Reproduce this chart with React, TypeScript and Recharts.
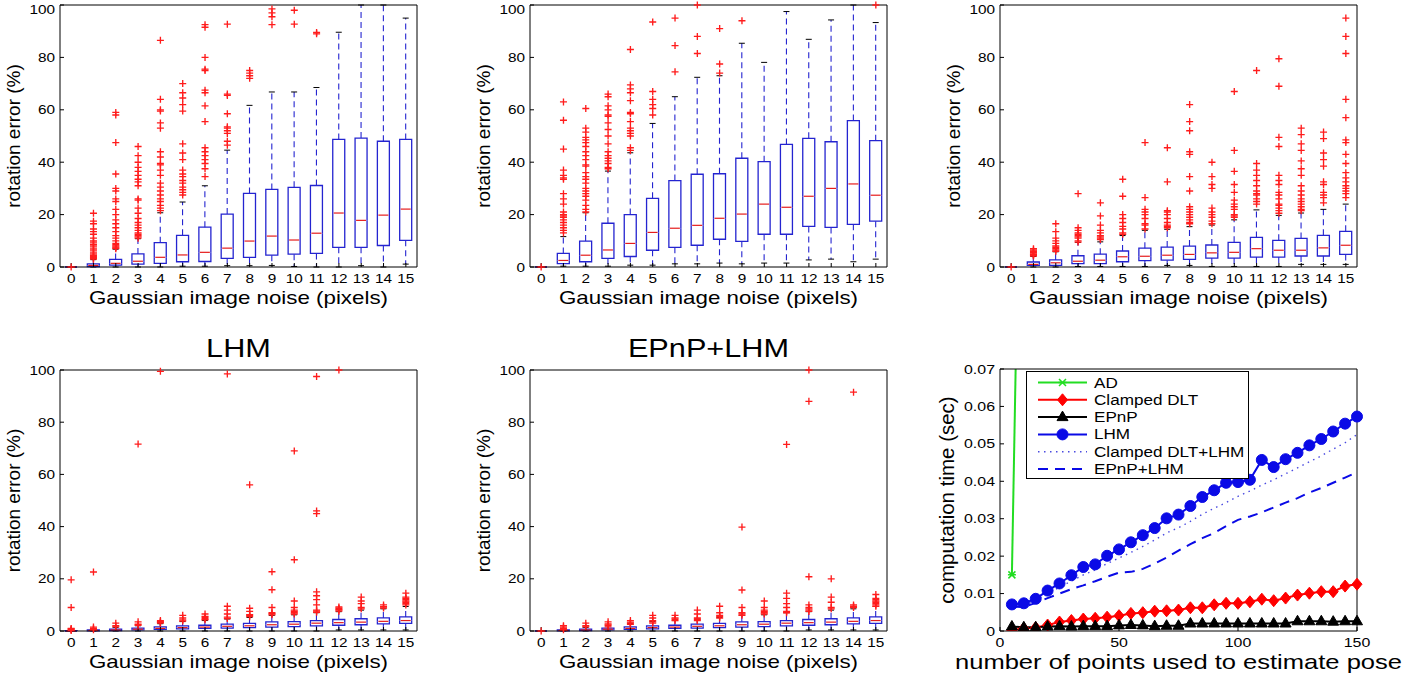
import React from "react";
import { ComposedChart, LineChart, Bar, Scatter, Line, XAxis, YAxis, Legend } from "recharts";

// ---- box plot panels: [lower whisker, q1, median, q3, upper whisker] per noise level ----
const GROUPS = [0, 1, 2, 3, 4, 5, 6, 7, 8, 9, 10, 11, 12, 13, 14, 15];
const Y_TICKS = [0, 20, 40, 60, 80, 100];

const BOX_A = [
  [0, 0, 0, 0, 0], [0, 0.2, 0.6, 1.2, 2.8], [0, 0.7, 1.4, 2.9, 6.8], [0, 1.1, 2.2, 5, 10.8],
  [0, 1.4, 3.7, 9.3, 20.7], [0.3, 2, 4.6, 12.1, 24.8], [0.3, 2.1, 5.6, 15.2, 31], [0.5, 3.3, 7.2, 20.2, 44.6],
  [0.5, 3.7, 9.9, 28.1, 61.7], [0.6, 4.5, 11.8, 29.6, 66.8], [0.2, 4.9, 10.3, 30.4, 66.8], [0, 5.2, 12.9, 31.1, 68.5],
  [0, 7.5, 20.6, 48.7, 89.6], [0.5, 7.5, 17.8, 49.2, 100], [0, 8.2, 19.8, 48, 100], [1.1, 10.2, 22.1, 48.7, 95],
];
const OUT_A = [
  [0],
  [3, 3.3, 3.7, 4, 4.5, 5, 5.7, 6.5, 7.2, 8, 8.7, 9.5, 10, 11, 12.5, 13.5, 14.5, 16.5, 17.5, 20.5],
  [7, 7.3, 7.6, 8, 8.5, 9, 10, 11, 12, 13.5, 15, 16.5, 18, 20, 22, 25, 26, 29, 30, 35.5, 47.5, 58, 59],
  [11, 11.5, 12, 12.5, 13, 14, 15, 16, 17, 18.5, 20.5, 22.5, 25.5, 26, 31, 32.5, 33.5, 35, 36.5, 38, 40, 42.5, 46],
  [21.5, 22.5, 23.5, 25, 26, 27.5, 29, 30.5, 32, 35, 37, 39, 39.5, 42, 44, 53, 55, 59.5, 60, 64, 86.5],
  [27.5, 28.5, 29.5, 30.5, 32, 33, 34.5, 35.5, 37, 41, 43.5, 47, 59.5, 62, 64.5, 66.5, 70],
  [34.5, 37.5, 39.5, 41, 42.5, 44, 45.5, 55.5, 61.5, 66.5, 67.5, 75, 75.5, 80, 91.5, 92.5],
  [46.5, 48, 51, 52, 53, 53.5, 58.5, 65.5, 66, 92.7],
  [72, 73, 74, 75],
  [92.5, 95.5, 97, 98.5],
  [92.7, 98],
  [89, 89.5],
  [], [], [], [],
];

const BOX_B = [
  [0, 0, 0, 0, 0], [0.3, 1.3, 2.5, 5.2, 11.6], [0.3, 2, 4.5, 9.9, 20.7], [0.3, 3.3, 6.5, 16.7, 36.6],
  [0.7, 4, 9, 20, 43.6], [0.7, 6.4, 13.2, 26.2, 54.8], [1.2, 7.5, 14.8, 33, 65], [1.2, 8.3, 15.9, 35.4, 72.4],
  [1.5, 10.6, 18.6, 35.6, 73], [1.2, 9.8, 20.2, 41.5, 85.4], [1.5, 12.5, 24, 40.2, 78.1], [1.5, 12.5, 22.8, 46.8, 97.5],
  [2.7, 15.5, 27, 49.1, 86.9], [3, 15.1, 30, 47.8, 94.3], [2, 16.3, 31.7, 55.9, 100], [3, 17.5, 27.4, 48.2, 93.3],
];
const OUT_B = [
  [0],
  [13, 14, 15, 16, 17, 18, 19, 19.5, 20, 21, 24, 26, 28, 33.5, 34, 35, 37, 45, 56, 63],
  [21, 22, 23.5, 25.5, 27, 28, 29, 30, 32, 33.5, 34.5, 36, 38.5, 39, 41, 42.5, 44, 46, 47.5, 48.5, 49.5, 51.5, 53, 60.5],
  [37.5, 38, 39.5, 40.5, 41.5, 42.5, 44, 47, 50, 52.5, 55, 57.5, 58, 60, 61.5, 65, 66],
  [44.5, 45.5, 50, 51, 52, 53, 55.5, 58.5, 59, 63.5, 66.5, 68, 69.5, 83],
  [58, 60.5, 62, 64, 67, 93.5],
  [74.5, 84.5, 95],
  [81.5, 88, 100],
  [74, 77.5, 91],
  [94],
  [], [], [], [], [],
  [100],
];

const BOX_C = [
  [0, 0, 0, 0, 0], [0, 0.6, 1, 1.9, 4], [0, 0.6, 1.6, 2.7, 5.8], [0.2, 1.3, 2.2, 4.3, 9.4],
  [0.2, 1.3, 2.6, 4.9, 9.6], [0.2, 2, 3.9, 6.1, 12], [0.2, 2.4, 4.1, 7.2, 14], [0.6, 2.6, 4.5, 7.6, 14.4],
  [0.6, 2.9, 4.8, 8, 15.4], [0.2, 3.4, 5.4, 8.4, 16], [0.2, 3.4, 5.6, 9.4, 18], [0.2, 3.8, 7, 11.3, 21.8],
  [0.2, 3.8, 6.4, 10.2, 19.7], [1, 4.2, 6.4, 10.9, 20.6], [1, 4.2, 7.3, 12.1, 22], [1, 4.8, 8.3, 13.6, 24],
];
const OUT_C = [
  [0],
  [4.2, 4.5, 4.8, 5, 5.5, 6, 6.5, 7],
  [6, 6.5, 7, 7.5, 8, 9, 10, 11, 13.5, 16.5],
  [9.5, 10, 11, 11.5, 12, 12.5, 13, 14, 15, 28],
  [10.5, 11, 11.5, 12, 13, 14, 16, 19.5, 24.5],
  [12.5, 13, 14.5, 15.5, 17, 18.5, 20, 27, 33.5],
  [14.5, 16, 16.5, 18.5, 20, 21, 22, 26.5, 47.5],
  [15, 15.5, 16, 17, 18.5, 20, 21, 21.5, 32.5, 45.5],
  [16.5, 17, 18, 19, 20, 21, 22, 23, 29, 34.5, 43, 44, 52, 55.5, 62],
  [16.5, 17.5, 19, 20, 21, 22.5, 30, 31.5, 34.5, 40],
  [19, 19.5, 20, 22, 23, 24, 25.5, 28.5, 31.5, 36.5, 44.5, 67],
  [24, 25, 26, 27.5, 28, 29, 31, 33, 35, 37, 39.5, 75],
  [20.5, 21.5, 22.5, 23.5, 24, 26, 27.5, 28.5, 31.5, 33, 35, 46, 49.5, 69, 79.5],
  [21.5, 22, 23, 24, 25, 26, 27.5, 29, 31, 35, 37.5, 40.5, 44.5, 47, 50.5, 53],
  [24.5, 26.5, 27.5, 28.5, 31.5, 32.5, 38.5, 41, 43.5, 49, 51.5],
  [26.5, 28, 29, 30, 31, 32.5, 34, 36, 39.5, 43, 47.5, 48.5, 57, 64, 81.5, 88, 95],
];

const BOX_LHM = [
  [0, 0, 0, 0.1, 0.3], [0, 0.1, 0.2, 0.4, 0.8], [0, 0.2, 0.4, 0.7, 1.4], [0, 0.4, 0.7, 1.1, 2],
  [0, 0.6, 1, 1.6, 2.8], [0, 0.8, 1.3, 2, 3.6], [0, 1, 1.5, 2.2, 4], [0, 1.1, 1.8, 2.6, 4.6],
  [0, 1.3, 2, 2.9, 5.2], [0, 1.5, 2.4, 3.5, 6], [0, 1.7, 2.6, 3.6, 6.2], [0, 2, 3, 4, 7],
  [0.4, 2.2, 3.2, 4.4, 7.4], [0.4, 2.4, 3.4, 4.7, 8], [0.4, 2.7, 3.7, 5, 8.5], [0.4, 2.9, 4, 5.4, 9.4],
];
const OUT_LHM = [
  [0.2, 0.5, 0.8, 1, 9, 19.6],
  [0.5, 1, 1.5, 22.6],
  [1.6, 2, 3],
  [2.2, 2.6, 3.5, 71.6],
  [3, 3.3, 3.6, 4, 99.5],
  [3.8, 4.2, 5, 6],
  [4.3, 4.7, 5.2, 5.6, 6.5],
  [4.8, 5.3, 6.5, 8, 9.5, 98.5],
  [5.5, 6, 6.3, 7.5, 8.7, 56],
  [6.2, 6.6, 7, 9, 15.8, 22.7],
  [6.5, 7, 7.5, 8, 9, 11.5, 27.3, 69],
  [7.2, 7.6, 8, 10, 12, 13.5, 15, 45, 46, 97.5],
  [7.6, 8, 8.3, 8.7, 9.2, 100],
  [8.5, 9, 10.5, 11.5, 13],
  [8.8, 9.3, 10],
  [10, 10.5, 11, 11.5, 12, 12.5, 13, 14.5],
];

const BOX_EPNP_LHM = [
  [0, 0, 0, 0, 0], [0, 0.1, 0.2, 0.4, 0.8], [0, 0.2, 0.4, 0.7, 1.4], [0, 0.4, 0.7, 1.1, 2],
  [0, 0.6, 1, 1.6, 2.8], [0, 0.8, 1.3, 2, 3.6], [0, 1, 1.5, 2.2, 4], [0, 1.1, 1.8, 2.6, 4.6],
  [0, 1.3, 2, 2.9, 5.2], [0, 1.5, 2.4, 3.5, 6], [0, 1.7, 2.6, 3.6, 6.2], [0, 2, 3, 4, 7],
  [0.4, 2.2, 3.2, 4.4, 7.4], [0.4, 2.4, 3.4, 4.7, 8], [0.4, 2.7, 3.7, 5, 8.5], [0.4, 2.9, 4, 5.4, 9.4],
];
const OUT_EPNP_LHM = [
  [0],
  [0.5, 1, 1.5, 2],
  [1.6, 2, 3],
  [1.6, 2.2, 2.7, 3.5],
  [2.6, 3, 3.4, 4],
  [3, 3.5, 4, 5, 6],
  [4, 4.5, 5, 6],
  [4, 4.5, 5, 6.5, 8],
  [5, 5.5, 6, 7, 9.5],
  [6, 6.5, 7, 9, 15.7, 39.8],
  [6.5, 7, 7.5, 8, 9, 11.5],
  [7, 7.5, 9, 10.5, 12.5, 14.5, 71.5],
  [7.5, 8, 8.5, 9, 10, 20.8, 88, 100],
  [8.5, 9, 11, 13, 20],
  [9, 9.5, 10, 91.5],
  [9.5, 10, 10.5, 11, 11.5, 12, 12.5, 14],
];

// ---- computation time panel ----
const N_POINTS = [5, 10, 15, 20, 25, 30, 35, 40, 45, 50, 55, 60, 65, 70, 75, 80, 85, 90, 95, 100, 105, 110, 115, 120, 125, 130, 135, 140, 145, 150];
const T_X_TICKS = [0, 50, 100, 150];
const T_Y_TICKS = [0, 0.01, 0.02, 0.03, 0.04, 0.05, 0.06, 0.07];
const T_AD = [0.015, 0.19];
const T_DLT = [0.0002, 0.0007, 0.0009, 0.0016, 0.0024, 0.0028, 0.0032, 0.0034, 0.0037, 0.0041, 0.0047, 0.0049, 0.0053, 0.0054, 0.0056, 0.0062, 0.0062, 0.007, 0.0074, 0.0074, 0.0078, 0.0085, 0.0081, 0.0088, 0.0096, 0.0101, 0.0105, 0.0105, 0.012, 0.0125];
const T_EPNP = [0.0012, 0.001, 0.001, 0.0012, 0.0013, 0.0012, 0.0013, 0.0013, 0.0013, 0.0015, 0.0016, 0.0015, 0.0013, 0.0014, 0.0014, 0.002, 0.002, 0.002, 0.002, 0.002, 0.002, 0.002, 0.002, 0.002, 0.0026, 0.0026, 0.0026, 0.0025, 0.0026, 0.0026];
const T_LHM = [0.0071, 0.0074, 0.0086, 0.0108, 0.0127, 0.0149, 0.0171, 0.0178, 0.0201, 0.0218, 0.0237, 0.0256, 0.0275, 0.0301, 0.0311, 0.0334, 0.0358, 0.0376, 0.0396, 0.0398, 0.0404, 0.0457, 0.0438, 0.0459, 0.0476, 0.0496, 0.0513, 0.0533, 0.0554, 0.0573];
const T_DLT_LHM = [0.0068, 0.0068, 0.0082, 0.01, 0.0117, 0.0133, 0.015, 0.0163, 0.018, 0.0195, 0.021, 0.0226, 0.0243, 0.0262, 0.0276, 0.0293, 0.0312, 0.0328, 0.0343, 0.036, 0.0374, 0.039, 0.0404, 0.042, 0.0436, 0.0452, 0.0468, 0.0486, 0.0503, 0.0525];
const T_EPNP_LHM = [0.0065, 0.0064, 0.0075, 0.0088, 0.01, 0.0112, 0.0122, 0.0133, 0.0145, 0.0156, 0.0158, 0.0166, 0.018, 0.0196, 0.0215, 0.0232, 0.0248, 0.0262, 0.028, 0.0297, 0.0306, 0.0317, 0.033, 0.0343, 0.0355, 0.037, 0.0382, 0.0396, 0.041, 0.0424];

const SERIES = [
  { key: "ad", name: "AD", color: "#22dd22", width: 2, marker: "star" },
  { key: "dlt", name: "Clamped DLT", color: "#ff0000", width: 2, marker: "diamond" },
  { key: "epnp", name: "EPnP", color: "#000000", width: 2, marker: "triangle" },
  { key: "lhm", name: "LHM", color: "#0a0ae6", width: 2, marker: "circle" },
  { key: "dltlhm", name: "Clamped DLT+LHM", color: "#4a4ae0", width: 1.4, dash: "1.5 4.5" },
  { key: "epnplhm", name: "EPnP+LHM", color: "#0a0ae6", width: 2, dash: "10 7" },
];

const FONT = "'Liberation Sans', Arial, Helvetica, sans-serif";
const SX = 1.18; // the figure is a bit wider than tall
const BOX_BLUE = "#2424d0";
const MED_RED = "#e51c1c";
const OUT_RED = "#ff1c1c";

const toBoxes = (b: number[][]) =>
  b.map(([wlo, q1, med, q3, whi], n) => ({ n, base: wlo, lw: q1 - wlo, lb: med - q1, hb: q3 - med, uw: whi - q3 }));
const toPoints = (out: number[][]) => out.flatMap((vals, n) => vals.map((v) => ({ n, v })));

function StretchTick(props: any) {
  const { x, y, payload, anchor = "middle", fs = 13, fmt } = props;
  const txt = fmt ? fmt(payload.value) : String(payload.value);
  return (
    <text transform={`translate(${x},${y}) scale(${SX},1)`} textAnchor={anchor} dominantBaseline="central"
          fontSize={fs} fontFamily={FONT} fill="#000">{txt}</text>
  );
}

function XTitle({ viewBox, text, fs, len }: any) {
  const cx = viewBox.x + viewBox.width / 2;
  const cy = viewBox.y + 30;
  return (
    <text x={cx} y={cy} textAnchor="middle" dominantBaseline="central" fontSize={fs} fontFamily={FONT}
          textLength={len} lengthAdjust="spacingAndGlyphs" fill="#000">{text}</text>
  );
}

function YTitle({ viewBox, text, fs, cxOff }: any) {
  const cx = viewBox.x + cxOff;
  const cy = viewBox.y + viewBox.height / 2;
  return (
    <text x={cx} y={cy} transform={`rotate(-90 ${cx} ${cy})`} textAnchor="middle" dominantBaseline="central"
          fontSize={fs} fontFamily={FONT} fill="#000">{text}</text>
  );
}

// stacked segments of one box: lower whisker, lower half box, upper half box, upper whisker
const WhiskerLow = ({ x, y, width, height }: any) => {
  const cx = x + width / 2;
  return (
    <g>
      <line x1={cx} x2={cx} y1={y} y2={y + height} stroke={BOX_BLUE} strokeWidth={1.1} strokeDasharray="6 4" />
      <line x1={cx - 3} x2={cx + 3} y1={y + height} y2={y + height} stroke="#000" />
    </g>
  );
};
const WhiskerHigh = ({ x, y, width, height }: any) => {
  const cx = x + width / 2;
  return (
    <g>
      <line x1={cx} x2={cx} y1={y + height} y2={y} stroke={BOX_BLUE} strokeWidth={1.1} strokeDasharray="6 4" />
      <line x1={cx - 3} x2={cx + 3} y1={y} y2={y} stroke="#000" />
    </g>
  );
};
const BoxLow = ({ x, y, width, height }: any) => (
  <path d={`M${x},${y}V${y + height}H${x + width}V${y}`} fill="none" stroke={BOX_BLUE} strokeWidth={1.3} />
);
const BoxHigh = ({ x, y, width, height }: any) => (
  <g>
    <path d={`M${x},${y + height}V${y}H${x + width}V${y + height}`} fill="none" stroke={BOX_BLUE} strokeWidth={1.3} />
    <line x1={x + 1} x2={x + width - 1} y1={y + height} y2={y + height} stroke={MED_RED} strokeWidth={1.2} />
  </g>
);
const PlusMark = ({ cx, cy }: any) => (
  <path d={`M${cx - 3.5},${cy}H${cx + 3.5}M${cx},${cy - 3.5}V${cy + 3.5}`} stroke={OUT_RED} strokeWidth={1.35} />
);

function BoxPanel({ boxes, outliers, left, top, padTop, plotH, title }: any) {
  const data = toBoxes(boxes);
  const pts = toPoints(outliers);
  const h = padTop + plotH + 43;
  return (
    <div style={{ position: "absolute", left, top, width: 430, height: h }}>
      {title && (
        <div style={{ position: "absolute", left: 60, width: 357, top: padTop - 37, height: 30, lineHeight: "30px",
                      textAlign: "center", fontSize: 26, fontFamily: FONT, transform: `scaleX(${SX})`, zIndex: 2 }}>
          {title}
        </div>
      )}
      <ComposedChart width={430} height={h} data={data} barSize={12} margin={{ top: 0, right: 0, bottom: 0, left: 0 }}>
        <XAxis dataKey="n" type="number" domain={[-0.5, 15.5]} ticks={GROUPS} interval={0} allowDataOverflow
               height={43} tickSize={-4} tickMargin={15} stroke="#000"
               tick={<StretchTick fs={13} />}
               label={(p: any) => <XTitle viewBox={p.viewBox} text="Gaussian image noise (pixels)" fs={19} len={299} />} />
        <XAxis xAxisId="top" orientation="top" type="number" domain={[-0.5, 15.5]} ticks={GROUPS} interval={0}
               allowDataOverflow height={padTop} tickSize={-4} tick={false} stroke="#000" />
        <YAxis type="number" domain={[0, 100]} ticks={Y_TICKS} width={60} tickSize={-4} tickMargin={9} stroke="#000"
               tick={<StretchTick anchor="end" fs={13} />}
               label={(p: any) => <YTitle viewBox={p.viewBox} text="rotation error (%)" fs={19} cxOff={13} />} />
        <YAxis yAxisId="right" orientation="right" type="number" domain={[0, 100]} ticks={Y_TICKS} width={13}
               tickSize={-4} tick={false} stroke="#000" />
        <Bar dataKey="base" stackId="b" shape={() => null} isAnimationActive={false} />
        <Bar dataKey="lw" stackId="b" shape={WhiskerLow} isAnimationActive={false} />
        <Bar dataKey="lb" stackId="b" shape={BoxLow} isAnimationActive={false} />
        <Bar dataKey="hb" stackId="b" shape={BoxHigh} isAnimationActive={false} />
        <Bar dataKey="uw" stackId="b" shape={WhiskerHigh} isAnimationActive={false} />
        <Scatter data={pts} dataKey="v" shape={PlusMark} isAnimationActive={false} />
      </ComposedChart>
    </div>
  );
}

function Marker({ type, cx, cy, color }: any) {
  if (cx == null || cy == null) return null;
  if (type === "circle") return <circle cx={cx} cy={cy} r={5.5} fill={color} stroke={color} />;
  if (type === "diamond")
    return <path d={`M${cx},${cy - 6}L${cx + 5},${cy}L${cx},${cy + 6}L${cx - 5},${cy}Z`} fill={color} stroke={color} />;
  if (type === "triangle")
    return <path d={`M${cx},${cy - 6}L${cx + 5.5},${cy + 3.5}L${cx - 5.5},${cy + 3.5}Z`} fill={color} stroke={color} />;
  if (type === "star")
    return (
      <path d={`M${cx - 3.5},${cy - 3.5}L${cx + 3.5},${cy + 3.5}M${cx + 3.5},${cy - 3.5}L${cx - 3.5},${cy + 3.5}M${cx - 4},${cy}H${cx + 4}`}
            stroke={color} strokeWidth={1.5} fill="none" />
    );
  return null;
}

// legend rows follow the series order, not the legend's own sorting
const renderLegend = () => (
  <svg width={223} height={108} style={{ display: "block" }}>
    <rect x={0.5} y={0.5} width={222} height={107} fill="#fff" stroke="#000" />
    {SERIES.map((s, i) => {
      const cy = 11.5 + i * 17.3;
      return (
        <g key={s.key}>
          <line x1={12} x2={61} y1={cy} y2={cy} stroke={s.color} strokeWidth={s.width} strokeDasharray={s.dash} />
          <Marker type={s.marker} cx={36.5} cy={cy} color={s.color} />
          <text transform={`translate(68,${cy}) scale(${SX},1)`} dominantBaseline="central" fontSize={14.5}
                fontFamily={FONT} fill="#000">{s.name}</text>
        </g>
      );
    })}
  </svg>
);

function TimePanel() {
  const rows = N_POINTS.map((x, i) => ({
    x,
    ad: T_AD[i] ?? null,
    dlt: T_DLT[i],
    epnp: T_EPNP[i],
    lhm: T_LHM[i],
    dltlhm: T_DLT_LHM[i],
    epnplhm: T_EPNP_LHM[i],
  }));
  const fmt = (v: number) => (v === 0 ? "0" : v.toFixed(2));
  return (
    <div style={{ position: "absolute", left: 920, top: 320, width: 487, height: 354 }}>
      <LineChart width={487} height={354} data={rows} margin={{ top: 0, right: 0, bottom: 0, left: 0 }}>
        <XAxis dataKey="x" type="number" domain={[0, 150]} ticks={T_X_TICKS} interval={0} height={43}
               tickSize={-4} tickMargin={15} stroke="#000" tick={<StretchTick fs={13.5} />}
               label={(p: any) => <XTitle viewBox={p.viewBox} text="number of points used to estimate pose" fs={21} len={447} />} />
        <XAxis xAxisId="top" orientation="top" type="number" domain={[0, 150]} ticks={T_X_TICKS} height={49}
               tickSize={-4} tick={false} stroke="#000" />
        <YAxis type="number" domain={[0, 0.07]} ticks={T_Y_TICKS} allowDataOverflow width={80} tickSize={-4}
               tickMargin={9} stroke="#000" tick={<StretchTick anchor="end" fs={13.5} fmt={fmt} />}
               label={(p: any) => <YTitle viewBox={p.viewBox} text="computation time (sec)" fs={20.5} cxOff={26} />} />
        <YAxis yAxisId="right" orientation="right" type="number" domain={[0, 0.07]} ticks={T_Y_TICKS} width={50}
               tickSize={-4} tick={false} stroke="#000" />
        {SERIES.map((s) => (
          <Line key={s.key} dataKey={s.key} name={s.name} stroke={s.color} strokeWidth={s.width}
                strokeDasharray={s.dash} isAnimationActive={false}
                dot={s.marker ? (p: any) => <Marker key={p.index} type={s.marker} cx={p.cx} cy={p.cy} color={s.color} /> : false}
                activeDot={false} />
        ))}
        <Legend layout="vertical" align="center" verticalAlign="middle" content={renderLegend}
                wrapperStyle={{ left: 106, top: 51, width: 223, height: 108 }} />
      </LineChart>
    </div>
  );
}

export default function App() {
  return (
    <div style={{ position: "absolute", left: 0, top: 0, width: 1407, height: 674, background: "#fff", fontFamily: FONT }}>
      <BoxPanel boxes={BOX_A} outliers={OUT_A} left={0} top={0} padTop={5} plotH={262} />
      <BoxPanel boxes={BOX_B} outliers={OUT_B} left={470} top={0} padTop={5} plotH={262} />
      <BoxPanel boxes={BOX_C} outliers={OUT_C} left={940} top={0} padTop={5} plotH={262} />
      <BoxPanel boxes={BOX_LHM} outliers={OUT_LHM} left={0} top={320} padTop={50} plotH={261} title="LHM" />
      <BoxPanel boxes={BOX_EPNP_LHM} outliers={OUT_EPNP_LHM} left={470} top={320} padTop={50} plotH={261} title="EPnP+LHM" />
      <TimePanel />
    </div>
  );
}
